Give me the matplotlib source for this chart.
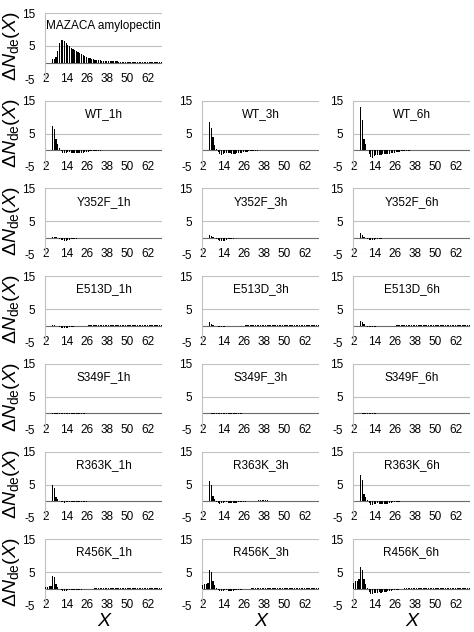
import numpy as np
import matplotlib.pyplot as plt

plt.rcParams['font.family'] = ['Liberation Sans', 'DejaVu Sans']
plt.rcParams['mathtext.fontset'] = 'custom'
plt.rcParams['mathtext.rm'] = 'Liberation Sans'
plt.rcParams['mathtext.it'] = 'Liberation Sans:italic'
plt.rcParams['axes.unicode_minus'] = False

# degree of polymerisation X = 2 .. 70
dp = np.arange(2, 71)
x_ticks = [2, 14, 26, 38, 50, 62]
y_ticks = [-5, 5, 15]

# values, one list per panel (X = 2..70)
mazaca = [
    0, 0, 0, 0, 1.0, 1.2, 1.6, 3.5, 5.8,
    6.7, 6.8, 6.5, 6.0, 5.4, 4.9, 4.5, 4.1, 3.8, 3.5,
    3.2, 2.9, 2.6, 2.3, 2.0, 1.8, 1.5, 1.3, 1.1, 1.0,
    0.9, 0.8, 0.7, 0.7, 0.6, 0.6, 0.5, 0.5, 0.5, 0.4,
    0.4, 0.4, 0.4, 0.4, 0.3, 0.3, 0.3, 0.3, 0.3, 0.3,
    0.3, 0.3, 0.3, 0.3, 0.3, 0.3, 0.2, 0.3, 0.2, 0.2,
    0.2, 0.2, 0.2, 0.2, 0.2, 0.2, 0.2, 0.2, 0.2, 0.2,
]
wt_1h = [
    0, 0, 0, 0, 7.3, 6.4, 3.5, 1.8, 0.6,
    -0.3, -0.8, -0.9, -0.7, -0.6, -0.6, -0.7, -0.8, -0.9, -0.9,
    -0.9, -0.8, -0.8, -0.7, -0.6, -0.5, -0.4, -0.3, -0.3, -0.2,
    -0.2, -0.1, -0.1, -0.1, 0.0, 0.1, 0.1, 0.1, 0.1, 0.1,
    0.1, 0.1, 0.2, 0.1, 0.1, 0.1, 0.1, 0.2, 0.1, 0.1,
    0.1, 0.1, 0.1, 0.1, 0.2, 0.1, 0.1, 0.1, 0.1, 0.1,
    0.1, 0.1, 0.1, 0.1, 0.1, 0.1, 0.1, 0.1, 0.1, 0.1,
]
wt_3h = [
    0, 0, 0, 0, 8.5, 6.8, 4.0, 1.5, 0.3,
    -0.5, -1.3, -1.5, -1.1, -0.8, -0.7, -0.8, -0.9, -1.0, -1.0,
    -1.0, -0.9, -0.9, -0.8, -0.7, -0.6, -0.5, -0.4, -0.3, -0.3,
    -0.2, -0.2, -0.1, -0.1, 0.0, 0.1, 0.1, 0.1, 0.1, 0.1,
    0.1, 0.1, 0.1, 0.2, 0.1, 0.1, 0.1, 0.1, 0.1, 0.2,
    0.1, 0.1, 0.1, 0.1, 0.1, 0.1, 0.1, 0.1, 0.1, 0.1,
    0.1, 0.1, 0.1, 0.1, 0.1, 0.1, 0.1, 0.1, 0.1, 0.1,
]
wt_6h = [
    0, 0, 0, 0, 13.0, 9.3, 3.5, 1.8, 0.2,
    -1.0, -2.2, -2.4, -1.9, -1.6, -1.5, -1.4, -1.4, -1.3, -1.3,
    -1.2, -1.1, -1.0, -0.9, -0.8, -0.7, -0.6, -0.5, -0.4, -0.3,
    -0.3, -0.2, -0.2, -0.1, -0.1, 0.0, 0.1, 0.1, 0.1, 0.1,
    0.1, 0.1, 0.1, 0.1, 0.1, 0.1, 0.1, 0.1, 0.1, 0.1,
    0.1, 0.1, 0.1, 0.1, 0.1, 0.1, 0.1, 0.1, 0.1, 0.1,
    0.1, 0.1, 0.1, 0.1, 0.1, 0.1, 0.1, 0.1, 0.1, 0.1,
]
y352f_1h = [
    0, 0, 0, 0, 0.3, 0.3, 0.2, 0.0, -0.2,
    -0.5, -0.7, -0.8, -0.8, -0.7, -0.5, -0.4, -0.3, -0.2, -0.2,
    -0.1, -0.1, -0.1, -0.1, -0.1, 0.0, 0.1, 0.1, 0.1, 0.1,
    0.1, 0.1, 0.1, 0.1, 0.1, 0.1, 0.1, 0.1, 0.1, 0.1,
    0.1, 0.1, 0.1, 0.1, 0.1, 0.1, 0.1, 0.1, 0.1, 0.1,
    0.1, 0.1, 0.1, 0.1, 0.1, 0.1, 0.1, 0.1, 0.1, 0.1,
    0.1, 0.1, 0.1, 0.1, 0.1, 0.1, 0.1, 0.1, 0.1, 0.1,
]
y352f_3h = [
    0, 0, 0, 0, 0.8, 0.6, 0.2, -0.1, -0.3,
    -0.6, -0.8, -0.9, -0.9, -0.8, -0.6, -0.4, -0.3, -0.2, -0.2,
    -0.1, -0.1, -0.1, -0.1, -0.1, 0.0, 0.1, 0.1, 0.1, 0.1,
    0.1, 0.1, 0.1, 0.1, 0.1, 0.1, 0.1, 0.1, 0.1, 0.1,
    0.1, 0.1, 0.1, 0.1, 0.1, 0.1, 0.1, 0.1, 0.1, 0.1,
    0.1, 0.1, 0.1, 0.1, 0.1, 0.1, 0.1, 0.1, 0.1, 0.1,
    0.1, 0.1, 0.1, 0.1, 0.1, 0.1, 0.1, 0.1, 0.1, 0.1,
]
y352f_6h = [
    0, 0, 0, 0, 1.5, 1.0, 0.3, -0.1, -0.4,
    -0.5, -0.6, -0.6, -0.5, -0.4, -0.3, -0.2, -0.2, -0.1, -0.1,
    -0.1, -0.1, -0.1, -0.1, -0.1, 0.0, 0.0, 0.1, 0.1, 0.1,
    0.1, 0.1, 0.1, 0.1, 0.1, 0.1, 0.1, 0.1, 0.1, 0.1,
    0.1, 0.1, 0.1, 0.1, 0.1, 0.1, 0.1, 0.1, 0.1, 0.1,
    0.1, 0.1, 0.1, 0.1, 0.1, 0.1, 0.1, 0.1, 0.1, 0.1,
    0.1, 0.1, 0.1, 0.1, 0.1, 0.1, 0.1, 0.1, 0.1, 0.1,
]
e513d_1h = [
    0, 0, 0, 0, 0.3, 0.2, 0.0, -0.2, -0.4,
    -0.6, -0.7, -0.8, -0.8, -0.7, -0.5, -0.4, -0.3, -0.2, -0.2,
    -0.1, -0.1, -0.1, -0.1, -0.1, 0.0, 0.1, 0.1, 0.1, 0.1,
    0.1, 0.1, 0.1, 0.1, 0.1, 0.1, 0.1, 0.1, 0.1, 0.1,
    0.1, 0.1, 0.1, 0.1, 0.1, 0.1, 0.1, 0.1, 0.1, 0.1,
    0.1, 0.1, 0.1, 0.1, 0.1, 0.1, 0.1, 0.1, 0.1, 0.1,
    0.1, 0.1, 0.1, 0.1, 0.1, 0.1, 0.1, 0.1, 0.1, 0.1,
]
e513d_3h = [
    0, 0, 0, 0, 1.0, 0.6, 0.1, -0.1, -0.2,
    -0.3, -0.3, -0.3, -0.3, -0.3, -0.2, -0.2, -0.2, -0.2, -0.2,
    -0.2, -0.2, -0.2, -0.1, -0.1, 0.0, 0.1, 0.1, 0.1, 0.1,
    0.1, 0.1, 0.1, 0.1, 0.1, 0.1, 0.1, 0.1, 0.1, 0.1,
    0.1, 0.1, 0.1, 0.1, 0.1, 0.1, 0.1, 0.1, 0.1, 0.1,
    0.1, 0.1, 0.1, 0.1, 0.1, 0.1, 0.1, 0.1, 0.1, 0.1,
    0.1, 0.1, 0.1, 0.1, 0.1, 0.1, 0.1, 0.1, 0.1, 0.1,
]
e513d_6h = [
    0, 0, 0, 0, 1.5, 1.2, 0.4, -0.1, -0.3,
    -0.5, -0.5, -0.5, -0.4, -0.3, -0.2, -0.2, -0.2, -0.2, -0.2,
    -0.2, -0.1, -0.1, -0.1, -0.1, 0.0, 0.1, 0.1, 0.1, 0.1,
    0.1, 0.2, 0.1, 0.1, 0.1, 0.1, 0.2, 0.1, 0.1, 0.1,
    0.1, 0.1, 0.1, 0.1, 0.1, 0.1, 0.1, 0.1, 0.1, 0.1,
    0.1, 0.1, 0.1, 0.1, 0.1, 0.1, 0.1, 0.1, 0.1, 0.1,
    0.1, 0.1, 0.1, 0.1, 0.1, 0.1, 0.1, 0.1, 0.1, 0.1,
]
s349f_1h = [
    0, 0, 0, 0, -0.1, -0.1, -0.2, -0.2, -0.2,
    -0.2, -0.2, -0.2, -0.2, -0.2, -0.2, -0.2, -0.2, -0.2, -0.2,
    -0.2, -0.2, -0.1, -0.1, -0.1, 0.0, 0.1, 0.1, 0.1, 0.1,
    0.1, 0.1, 0.1, 0.1, 0.1, 0.1, 0.1, 0.1, 0.1, 0.1,
    0.1, 0.1, 0.1, 0.1, 0.1, 0.1, 0.1, 0.1, 0.1, 0.1,
    0.1, 0.1, 0.1, 0.1, 0.1, 0.1, 0.1, 0.1, 0.1, 0.1,
    0.1, 0.1, 0.1, 0.1, 0.1, 0.1, 0.1, 0.1, 0.1, 0.1,
]
s349f_3h = [
    0, 0, 0, 0, 0.1, -0.1, -0.2, -0.2, -0.2,
    -0.2, -0.2, -0.2, -0.2, -0.2, -0.2, -0.2, -0.2, -0.2, -0.2,
    -0.2, -0.1, -0.1, -0.1, -0.1, 0.0, 0.1, 0.1, 0.1, 0.1,
    0.1, 0.1, 0.1, 0.1, 0.1, 0.1, 0.1, 0.1, 0.1, 0.1,
    0.1, 0.1, 0.1, 0.1, 0.1, 0.1, 0.1, 0.1, 0.1, 0.1,
    0.1, 0.1, 0.1, 0.1, 0.1, 0.1, 0.1, 0.1, 0.1, 0.1,
    0.1, 0.1, 0.1, 0.1, 0.1, 0.1, 0.1, 0.1, 0.1, 0.1,
]
s349f_6h = [
    0, 0, 0, 0, 0.1, -0.1, -0.2, -0.2, -0.2,
    -0.2, -0.2, -0.2, -0.1, -0.1, 0.0, 0.1, 0.1, 0.1, 0.1,
    0.1, 0.1, 0.1, 0.1, 0.1, 0.1, 0.1, 0.1, 0.1, 0.1,
    0.1, 0.1, 0.1, 0.1, 0.1, 0.1, 0.1, 0.1, 0.1, 0.1,
    0.1, 0.1, 0.1, 0.1, 0.1, 0.1, 0.1, 0.1, 0.1, 0.1,
    0.1, 0.1, 0.1, 0.1, 0.1, 0.1, 0.1, 0.1, 0.1, 0.1,
    0.1, 0.1, 0.1, 0.1, 0.1, 0.1, 0.1, 0.1, 0.1, 0.1,
]
r363k_1h = [
    0, 0, 0, 0, 4.8, 4.0, 1.3, 0.5, 0.1,
    -0.2, -0.4, -0.5, -0.4, -0.3, -0.3, -0.3, -0.3, -0.4, -0.4,
    -0.4, -0.3, -0.3, -0.3, -0.2, -0.2, -0.1, -0.1, -0.1, -0.1,
    0.1, 0.1, 0.1, 0.1, 0.1, 0.1, 0.1, 0.1, 0.1, 0.1,
    0.1, 0.1, 0.1, 0.1, 0.1, 0.1, 0.1, 0.1, 0.1, 0.1,
    0.1, 0.1, 0.1, 0.1, 0.1, 0.1, 0.1, 0.1, 0.1, 0.1,
    0.1, 0.1, 0.1, 0.1, 0.1, 0.1, 0.1, 0.1, 0.1, 0.1,
]
r363k_3h = [
    0, 0, 0, 0, 6.0, 5.0, 1.5, 0.5, -0.2,
    -0.6, -0.8, -0.7, -0.5, -0.4, -0.4, -0.5, -0.5, -0.6, -0.6,
    -0.5, -0.5, -0.4, -0.4, -0.3, -0.2, -0.2, -0.1, -0.1, -0.1,
    0.1, 0.1, 0.1, 0.1, 0.2, 0.2, 0.3, 0.3, 0.2, 0.2,
    0.1, 0.1, 0.1, 0.1, 0.1, 0.1, 0.1, 0.1, 0.1, 0.1,
    0.1, 0.1, 0.1, 0.1, 0.1, 0.1, 0.1, 0.1, 0.1, 0.1,
    0.1, 0.1, 0.1, 0.1, 0.1, 0.1, 0.1, 0.1, 0.1, 0.1,
]
r363k_6h = [
    0, 0, 0, 0, 8.0, 6.3, 2.0, 1.2, 0.2,
    -0.6, -1.2, -1.3, -1.0, -0.8, -0.7, -0.8, -0.9, -1.0, -1.0,
    -0.9, -0.8, -0.7, -0.5, -0.4, -0.3, -0.3, -0.2, -0.2, -0.1,
    0.1, 0.1, 0.1, 0.1, 0.1, 0.1, 0.1, 0.1, 0.1, 0.1,
    0.1, 0.1, 0.1, 0.1, 0.1, 0.1, 0.1, 0.1, 0.1, 0.1,
    0.1, 0.1, 0.1, 0.1, 0.1, 0.1, 0.1, 0.1, 0.1, 0.1,
    0.1, 0.1, 0.1, 0.1, 0.1, 0.1, 0.1, 0.1, 0.1, 0.1,
]
r456k_1h = [
    0.5, 0.6, 0.7, 0.8, 3.8, 3.5, 1.3, 0.4, -0.2,
    -0.5, -0.7, -0.7, -0.6, -0.5, -0.4, -0.4, -0.4, -0.4, -0.4,
    -0.3, -0.3, -0.3, -0.2, -0.2, -0.1, -0.1, -0.1, -0.1, -0.1,
    0.1, 0.1, 0.1, 0.1, 0.1, 0.1, 0.1, 0.1, 0.1, 0.1,
    0.1, 0.1, 0.1, 0.1, 0.1, 0.1, 0.1, 0.1, 0.1, 0.1,
    0.1, 0.1, 0.1, 0.1, 0.1, 0.1, 0.1, 0.1, 0.1, 0.1,
    0.1, 0.1, 0.1, 0.1, 0.1, 0.1, 0.1, 0.1, 0.1, 0.1,
]
r456k_3h = [
    1.2, 1.5, 1.3, 1.6, 5.6, 5.0, 2.2, 1.0, 0.2,
    -0.5, -0.8, -0.8, -0.6, -0.5, -0.5, -0.6, -0.7, -0.7, -0.6,
    -0.5, -0.4, -0.4, -0.3, -0.3, -0.2, -0.2, -0.1, -0.1, -0.1,
    0.1, 0.1, 0.1, 0.1, 0.1, 0.1, 0.1, 0.1, 0.1, 0.1,
    0.1, 0.1, 0.1, 0.1, 0.1, 0.1, 0.1, 0.1, 0.1, 0.1,
    0.1, 0.1, 0.1, 0.1, 0.1, 0.1, 0.1, 0.1, 0.1, 0.1,
    0.1, 0.1, 0.1, 0.1, 0.1, 0.1, 0.1, 0.1, 0.1, 0.1,
]
r456k_6h = [
    1.8, 2.4, 2.3, 2.8, 6.6, 5.8, 3.0, 1.5, 0.2,
    -1.0, -1.5, -1.6, -1.3, -1.2, -1.2, -1.1, -1.2, -1.1, -1.0,
    -0.9, -0.8, -0.7, -0.6, -0.5, -0.4, -0.3, -0.3, -0.2, -0.2,
    -0.1, 0.1, 0.1, 0.1, 0.1, 0.1, 0.1, 0.1, 0.1, 0.1,
    0.1, 0.1, 0.1, 0.1, 0.1, 0.1, 0.1, 0.1, 0.1, 0.1,
    0.1, 0.1, 0.1, 0.1, 0.1, 0.1, 0.1, 0.1, 0.1, 0.1,
    0.1, 0.1, 0.1, 0.1, 0.1, 0.1, 0.1, 0.1, 0.1, 0.1,
]

panels = [
    [("MAZACA amylopectin", mazaca), None, None],
    [("WT_1h", wt_1h), ("WT_3h", wt_3h), ("WT_6h", wt_6h)],
    [("Y352F_1h", y352f_1h), ("Y352F_3h", y352f_3h), ("Y352F_6h", y352f_6h)],
    [("E513D_1h", e513d_1h), ("E513D_3h", e513d_3h), ("E513D_6h", e513d_6h)],
    [("S349F_1h", s349f_1h), ("S349F_3h", s349f_3h), ("S349F_6h", s349f_6h)],
    [("R363K_1h", r363k_1h), ("R363K_3h", r363k_3h), ("R363K_6h", r363k_6h)],
    [("R456K_1h", r456k_1h), ("R456K_3h", r456k_3h), ("R456K_6h", r456k_6h)],
]

# layout in pixels of the 474x632 picture
W, H = 474, 632
col_left = [45, 202, 353]
ax_w, ax_h = 117, 66
row_top0, row_step = 13, 87.7
grid_col = "#c0c0c0"

fig = plt.figure(figsize=(W / 100, H / 100), dpi=100)

for r, row in enumerate(panels):
    top = row_top0 + r * row_step
    for c, panel in enumerate(row):
        if panel is None:
            continue
        name, vals = panel
        ax = fig.add_axes([col_left[c] / W, 1 - (top + ax_h) / H, ax_w / W, ax_h / H])
        ax.bar(dp, vals, width=0.7, color="black", linewidth=0, zorder=3)
        ax.axhline(0, color="#6a6a6a", lw=0.8, zorder=2)
        ax.set_xlim(1.5, 70.5)
        ax.set_ylim(-5, 15)
        ax.set_xticks(x_ticks)
        ax.set_yticks(y_ticks)
        ax.grid(axis="y", color=grid_col, lw=0.8)
        ax.set_axisbelow(True)
        for s in ["top", "right", "bottom"]:
            ax.spines[s].set_visible(False)
        ax.spines["left"].set_color(grid_col)
        ax.spines["left"].set_linewidth(0.8)
        ax.tick_params(length=0, labelsize=8.5)
        ax.tick_params(axis="y", pad=7)
        ax.tick_params(axis="x", pad=0)
        for lab in ax.get_xticklabels():
            lab.set_va("center")
        # panel name, centred in the upper half
        ax.text(36, 11, name, fontsize=8.5, ha="center", va="center")

    # row label on the left
    fig.text(12 / W, 1 - (top + ax_h / 2) / H, r"$\Delta N_{\rm de}(X)$",
             rotation=90, ha="center", va="center", fontsize=14)

for c in range(3):
    fig.text((col_left[c] + ax_w / 2) / W, 1 - 621 / H, "X", style="italic",
             ha="center", va="center", fontsize=14)

fig.savefig("out.png", dpi=100)
